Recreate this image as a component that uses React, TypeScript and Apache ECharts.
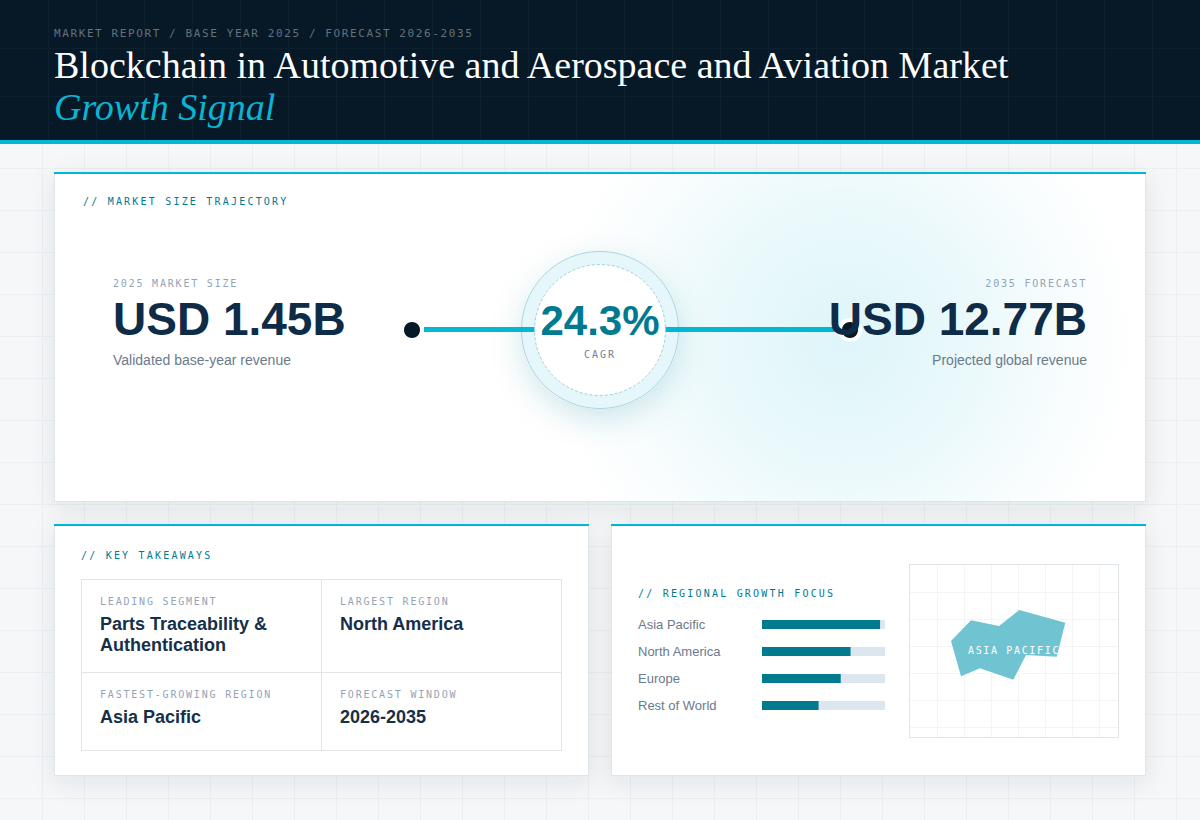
import React, { useEffect, useRef } from "react";
import * as echarts from "echarts";

const regions = ["Asia Pacific", "North America", "Europe", "Rest of World"];
const regionShare = [96, 72, 64, 46];
const baseValue = "USD 1.45B";
const forecastValue = "USD 12.77B";
const cagrValue = "24.3%";

const MONO = '"DejaVu Sans Mono", monospace';
const SANS = '"Liberation Sans", Arial, sans-serif';
const SERIF = '"Liberation Serif", serif';

const CYAN = "#00b8d4";
const TEAL = "#007a8f";
const NAVY = "#0e2c48";
const INK = "#16304a";
const DARK = "#071826";
const SLATE = "#6b7a8c";
const MUTED = "#94a3b8";

// letter spacing per label, zrender has no option for it
const spacedLabels: Record<string, number> = {
  "MARKET REPORT / BASE YEAR 2025 / FORECAST 2026-2035": 1.6,
  "// MARKET SIZE TRAJECTORY": 2.2,
  "// KEY TAKEAWAYS": 2.2,
  "// REGIONAL GROWTH FOCUS": 2.2,
  "2025 MARKET SIZE": 1.8,
  "2035 FORECAST": 1.8,
  "LEADING SEGMENT": 1.8,
  "LARGEST REGION": 1.8,
  "FASTEST-GROWING REGION": 1.8,
  "FORECAST WINDOW": 1.8,
  CAGR: 2,
  "ASIA PACIFIC": 1.65,
};

const txt = (text: string, x: number, y: number, font: string, fill: string, align = "left", extra = {}) => ({
  type: "text",
  z: 1,
  style: { text, x, y, font, fill, align, verticalAlign: "middle", ...extra },
});

const hline = (x1: number, x2: number, y: number, stroke: string, z = -5) => ({
  type: "line",
  z,
  shape: { x1, y1: y, x2, y2: y },
  style: { stroke, lineWidth: 1 },
});

const vline = (x: number, y1: number, y2: number, stroke: string, z = -5) => ({
  type: "line",
  z,
  shape: { x1: x, y1, x2: x, y2 },
  style: { stroke, lineWidth: 1 },
});

const card = (x: number, y: number, w: number, h: number) => [
  {
    type: "rect",
    z: -4,
    shape: { x: x + 0.5, y: y + 0.5, width: w - 1, height: h - 1 },
    style: {
      fill: "#ffffff",
      stroke: "#dfe4e8",
      lineWidth: 1,
      shadowBlur: 24,
      shadowOffsetY: 6,
      shadowColor: "rgba(13,42,66,0.09)",
    },
  },
  { type: "rect", z: -2, shape: { x, y, width: w, height: 2 }, style: { fill: CYAN } },
];

const buildGraphics = () => {
  const els: any[] = [];

  // page and header backdrops
  els.push({ type: "rect", z: -9, shape: { x: 0, y: 0, width: 1200, height: 820 }, style: { fill: "#f5f7f9" } });
  for (let x = 42.5; x < 1200; x += 42) els.push(vline(x, 144, 820, "#ebeff2", -8));
  for (let y = 168.5; y < 820; y += 42) els.push(hline(0, 1200, y, "#ebeff2", -8));
  els.push({ type: "rect", z: -7, shape: { x: 0, y: 0, width: 1200, height: 140 }, style: { fill: DARK } });
  for (let x = 48.5; x < 1200; x += 48) els.push(vline(x, 0, 140, "#0d202e", -6));
  for (let y = 48.5; y < 140; y += 48) els.push(hline(0, 1200, y, "#0d202e", -6));
  els.push({ type: "rect", z: -6, shape: { x: 0, y: 140, width: 1200, height: 4 }, style: { fill: CYAN } });

  els.push(txt("MARKET REPORT / BASE YEAR 2025 / FORECAST 2026-2035", 54, 33, `11px ${MONO}`, "#64727c"));
  els.push(txt("Blockchain in Automotive and Aerospace and Aviation Market", 54, 65, `38px ${SERIF}`, "#ffffff"));
  els.push(txt("Growth Signal", 54, 107, `italic 38px ${SERIF}`, "#0ab4d2"));

  // trajectory card
  els.push(...card(54, 172, 1092, 330));
  els.push({
    type: "rect",
    z: -3,
    shape: { x: 55, y: 174, width: 1090, height: 327 },
    style: {
      fill: new echarts.graphic.RadialGradient(
        845,
        340,
        295,
        [
          { offset: 0, color: "rgba(0,180,210,0.13)" },
          { offset: 0.45, color: "rgba(0,180,210,0.08)" },
          { offset: 0.75, color: "rgba(0,180,210,0.03)" },
          { offset: 1, color: "rgba(0,180,210,0)" },
        ],
        true,
      ),
    },
  });
  els.push(txt("// MARKET SIZE TRAJECTORY", 83, 201, `10px ${MONO}`, TEAL));
  els.push(txt("2025 MARKET SIZE", 113, 283, `10px ${MONO}`, MUTED));
  els.push(txt("2035 FORECAST", 1087, 283, `10px ${MONO}`, MUTED, "right"));

  // CAGR badge, then the connector, then the white centre
  els.push({
    type: "circle",
    z: -2,
    shape: { cx: 600, cy: 330, r: 79 },
    style: { fill: "#ffffff", shadowBlur: 30, shadowOffsetY: 10, shadowColor: "rgba(0,122,143,0.18)" },
  });
  els.push({
    type: "circle",
    z: -2,
    shape: { cx: 600, cy: 330, r: 78.5 },
    style: { fill: "rgba(0,180,210,0.1)", stroke: "#a9d5df", lineWidth: 1 },
  });
  els.push({ type: "rect", z: -1, shape: { x: 424, y: 327, width: 426, height: 5 }, style: { fill: CYAN } });
  els.push({ type: "circle", z: -1, shape: { cx: 412, cy: 330, r: 10 }, style: { fill: DARK, stroke: "#ffffff", lineWidth: 4 } });
  els.push({ type: "circle", z: -1, shape: { cx: 850, cy: 330, r: 10 }, style: { fill: DARK, stroke: "#ffffff", lineWidth: 4 } });
  els.push({
    type: "circle",
    z: 0,
    shape: { cx: 600, cy: 330, r: 65.5 },
    style: { fill: "#ffffff", stroke: "#9fd0da", lineWidth: 1, lineDash: [3, 2] },
  });

  els.push(txt(baseValue, 113, 319, `bold 46px ${SANS}`, NAVY));
  els.push(txt(forecastValue, 1087, 319, `bold 46px ${SANS}`, NAVY, "right"));
  els.push(txt("Validated base-year revenue", 113, 360, `14px ${SANS}`, SLATE));
  els.push(txt("Projected global revenue", 1087, 360, `14px ${SANS}`, SLATE, "right"));
  els.push(txt(cagrValue, 600, 320, `bold 42px ${SANS}`, TEAL, "center"));
  els.push(txt("CAGR", 600, 354, `10px ${MONO}`, "#718096", "center"));

  // takeaways card
  els.push(...card(54, 524, 535, 252));
  els.push(txt("// KEY TAKEAWAYS", 81, 555, `10px ${MONO}`, TEAL));
  const rule = "#e1e5e9";
  els.push(hline(81, 562, 579.5, rule, -1), hline(81, 562, 672.5, rule, -1), hline(81, 562, 750.5, rule, -1));
  els.push(vline(81.5, 579, 751, rule, -1), vline(321.5, 579, 751, rule, -1), vline(561.5, 579, 751, rule, -1));
  els.push(txt("LEADING SEGMENT", 100, 601, `10px ${MONO}`, MUTED));
  els.push(txt("LARGEST REGION", 340, 601, `10px ${MONO}`, MUTED));
  els.push(txt("FASTEST-GROWING REGION", 100, 694, `10px ${MONO}`, MUTED));
  els.push(txt("FORECAST WINDOW", 340, 694, `10px ${MONO}`, MUTED));
  els.push(txt("Parts Traceability &\nAuthentication", 100, 634, `bold 18px ${SANS}`, INK, "left", { lineHeight: 21 }));
  els.push(txt("North America", 340, 623.5, `bold 18px ${SANS}`, INK));
  els.push(txt("Asia Pacific", 100, 716.5, `bold 18px ${SANS}`, INK));
  els.push(txt("2026-2035", 340, 716.5, `bold 18px ${SANS}`, INK));

  // regional card
  els.push(...card(611, 524, 535, 252));
  els.push(txt("// REGIONAL GROWTH FOCUS", 638, 593, `10px ${MONO}`, TEAL));

  // map panel
  els.push({
    type: "rect",
    z: -1,
    shape: { x: 909.5, y: 564.5, width: 209, height: 173 },
    style: { fill: "#ffffff", stroke: "#dfe4e8", lineWidth: 1 },
  });
  for (let x = 937.5; x < 1118; x += 27) els.push(vline(x, 565, 737, "#f2f4f6", 0));
  for (let y = 592.5; y < 737; y += 27) els.push(hline(910, 1118, y, "#f2f4f6", 0));
  els.push({
    type: "polygon",
    z: 0,
    shape: {
      points: [
        [951, 641],
        [971, 620.3],
        [999, 626],
        [1019.3, 610],
        [1065.3, 622.7],
        [1056.7, 656.7],
        [1026, 655],
        [1013.3, 679.7],
        [980, 668.3],
        [961, 676.3],
      ],
    },
    style: { fill: "#70c4d2" },
  });
  els.push(txt("ASIA PACIFIC", 968, 650, `10px ${MONO}`, "#ffffff"));

  return els;
};

const App: React.FC = () => {
  const chartRef = useRef<HTMLDivElement>(null);

  useEffect(() => {
    if (!chartRef.current) return;
    const root = chartRef.current;
    const myChart = echarts.init(root, undefined, { renderer: "svg" });

    myChart.setOption({
      animation: false,
      graphic: { elements: buildGraphics() },
      grid: { left: 762, top: 611, width: 123, height: 108, containLabel: false },
      xAxis: { type: "value", min: 0, max: 100, show: false },
      yAxis: {
        type: "category",
        inverse: true,
        data: regions,
        axisLine: { show: false },
        axisTick: { show: false },
        axisLabel: { align: "left", margin: 124, color: SLATE, fontSize: 13, fontFamily: SANS },
      },
      series: [
        {
          type: "bar",
          data: regionShare,
          barWidth: 9,
          itemStyle: { color: TEAL },
          showBackground: true,
          backgroundStyle: { color: "#dce6ee" },
          silent: true,
        },
      ],
    });

    const applySpacing = () => {
      root.querySelectorAll("text").forEach((node) => {
        const gap = spacedLabels[node.textContent || ""];
        if (gap) node.style.letterSpacing = `${gap}px`;
      });
    };
    applySpacing();
    myChart.on("finished", applySpacing);

    return () => myChart.dispose();
  }, []);

  return <div ref={chartRef} style={{ position: "absolute", left: 0, top: 0, width: 1200, height: 820 }} />;
};

export default App;
